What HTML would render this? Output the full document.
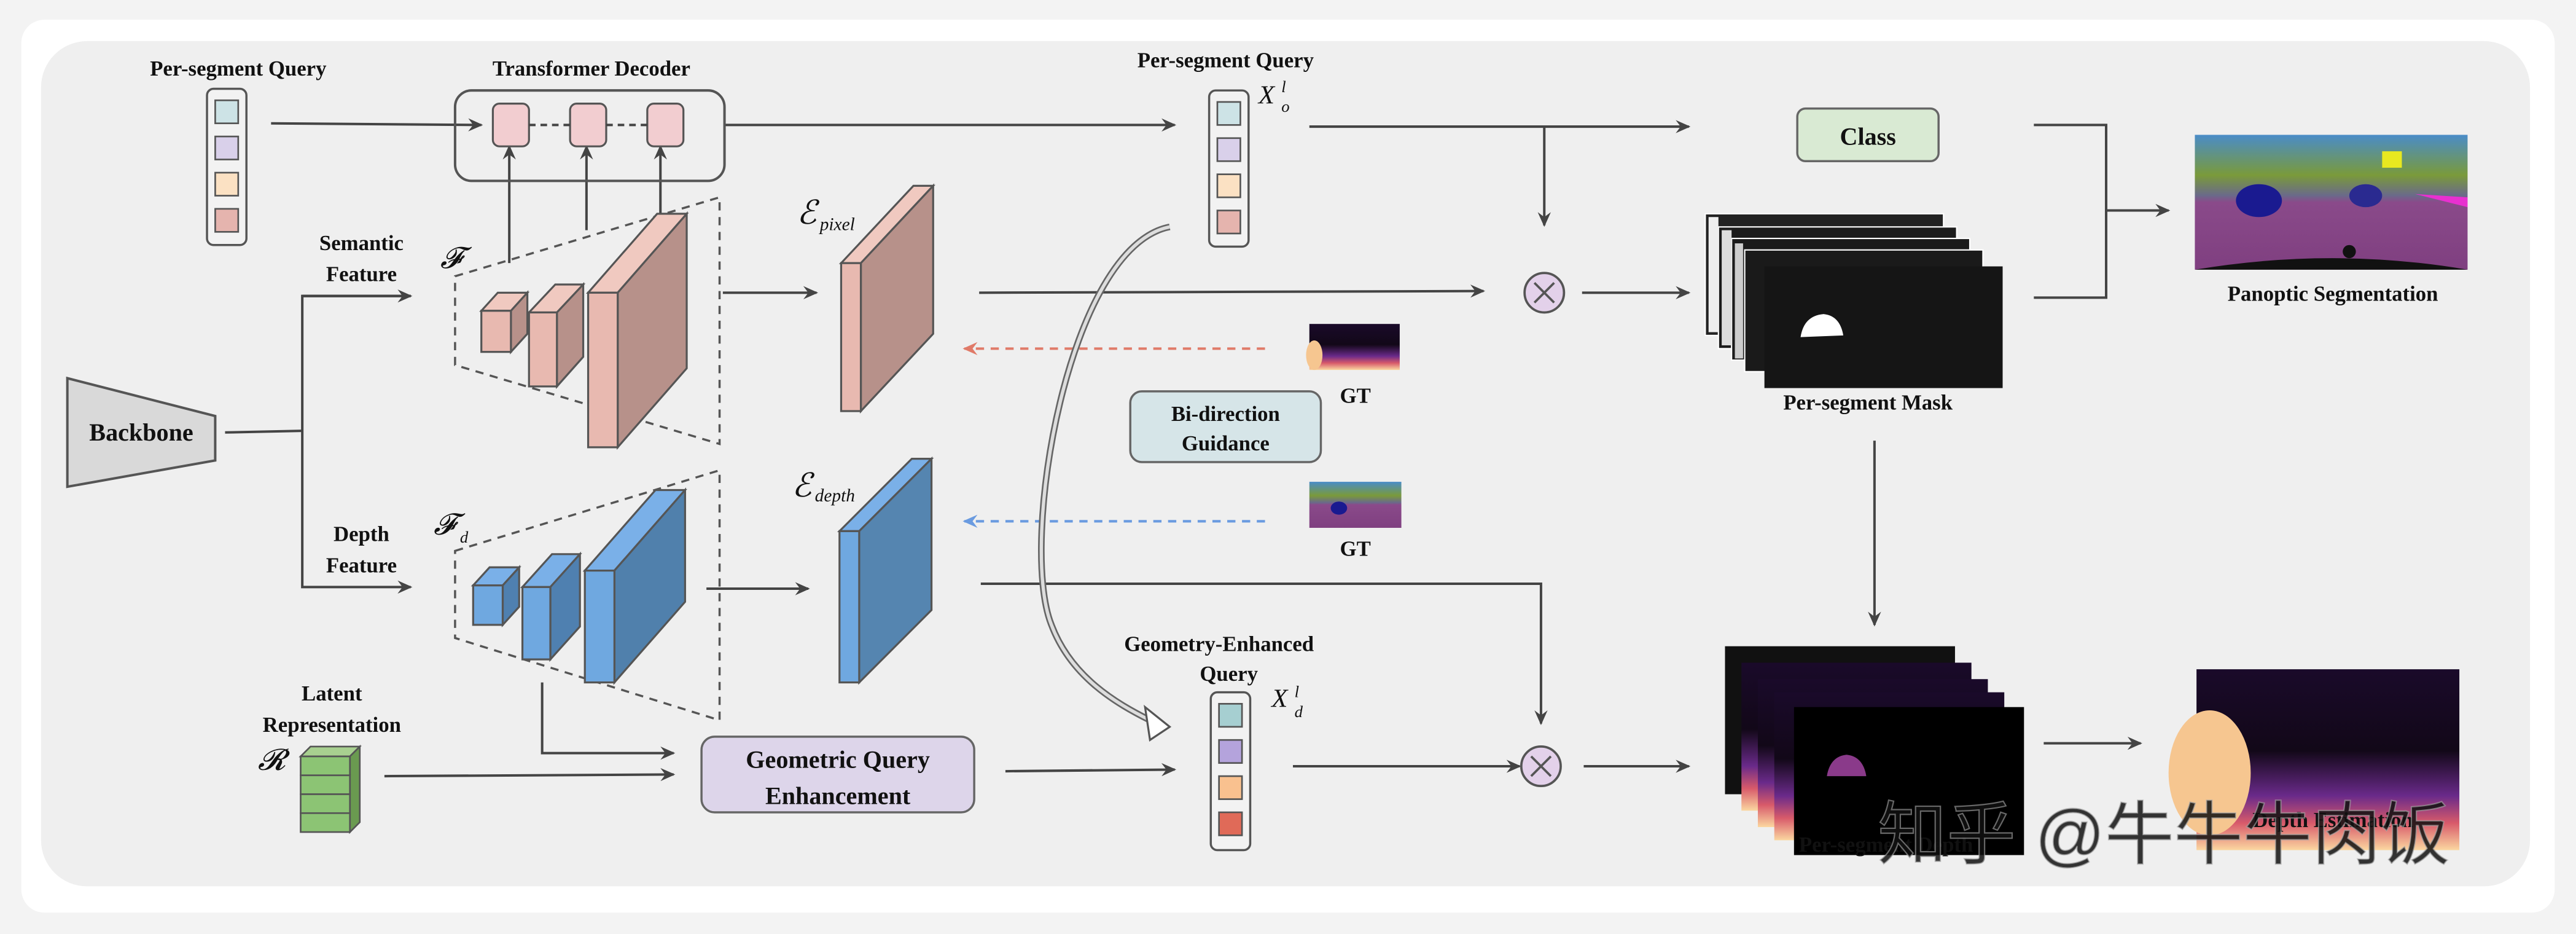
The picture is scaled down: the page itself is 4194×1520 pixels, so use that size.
<!DOCTYPE html>
<html><head><meta charset="utf-8"><style>
html,body{margin:0;padding:0;background:#f3f3f3;}
svg{display:block;}
text{font-family:"Liberation Serif",serif;font-weight:bold;fill:#111;}
.i{font-style:italic;font-weight:normal;}
</style></head><body>
<svg width="4194" height="1520" viewBox="0 0 1568 568" preserveAspectRatio="none" xmlns="http://www.w3.org/2000/svg">
<defs>
<marker id="a" markerWidth="10" markerHeight="10" refX="8" refY="5" orient="auto" markerUnits="userSpaceOnUse"><path d="M0,1 L9,5 L0,9 L3,5 Z" fill="#444"/></marker>
<marker id="ar" markerWidth="10" markerHeight="10" refX="8" refY="5" orient="auto" markerUnits="userSpaceOnUse"><path d="M0,1 L9,5 L0,9 L3,5 Z" fill="#e07a68"/></marker>
<marker id="ab" markerWidth="10" markerHeight="10" refX="8" refY="5" orient="auto" markerUnits="userSpaceOnUse"><path d="M0,1 L9,5 L0,9 L3,5 Z" fill="#6a9be0"/></marker>
<linearGradient id="dep" x1="0" y1="0" x2="0" y2="1"><stop offset="0" stop-color="#1a0a2a"/><stop offset="0.45" stop-color="#120818"/><stop offset="0.7" stop-color="#6a2a8a"/><stop offset="0.85" stop-color="#d85a6a"/><stop offset="1" stop-color="#fbd7a0"/></linearGradient>
<linearGradient id="pan" x1="0" y1="0" x2="0" y2="1"><stop offset="0" stop-color="#4a8cc8"/><stop offset="0.3" stop-color="#7a9a3a"/><stop offset="0.45" stop-color="#6a6a8a"/><stop offset="0.5" stop-color="#8a4a8a"/><stop offset="1" stop-color="#7f3f80"/></linearGradient>
</defs>
<rect x="13" y="12" width="1542" height="543" rx="14" fill="#fff"/>
<rect x="25" y="25" width="1515" height="514" rx="28" fill="#efefef"/>

<g stroke="#444" stroke-width="1.5" fill="none">
<line x1="165" y1="75" x2="293" y2="76" marker-end="url(#a)"/>
<line x1="441" y1="76" x2="715" y2="76" marker-end="url(#a)"/>
<line x1="797" y1="77" x2="1028" y2="77" marker-end="url(#a)"/>
<line x1="940" y1="77" x2="940" y2="137" marker-end="url(#a)"/>
<line x1="596" y1="178" x2="903" y2="177" marker-end="url(#a)"/>
<line x1="963" y1="178" x2="1028" y2="178" marker-end="url(#a)"/>
<polyline points="1238,76 1282,76 1282,181 1238,181"/>
<line x1="1282" y1="128" x2="1320" y2="128" marker-end="url(#a)"/>
<line x1="1141" y1="268" x2="1141" y2="380" marker-end="url(#a)"/>
<line x1="137" y1="263" x2="184" y2="262"/>
<polyline points="250,180 184,180 184,357 250,357" marker-end="url(#a)"/>
<line x1="184" y1="180" x2="250" y2="180" marker-end="url(#a)"/>
<line x1="440" y1="178" x2="497" y2="178" marker-end="url(#a)"/>
<line x1="430" y1="358" x2="492" y2="358" marker-end="url(#a)"/>
<line x1="310" y1="160" x2="310" y2="89" marker-end="url(#a)"/>
<line x1="357" y1="140" x2="357" y2="89" marker-end="url(#a)"/>
<line x1="402" y1="130" x2="402" y2="89" marker-end="url(#a)"/>
<polyline points="597,355 938,355 938,440" marker-end="url(#a)"/>
<line x1="787" y1="466" x2="925" y2="466" marker-end="url(#a)"/>
<line x1="964" y1="466" x2="1028" y2="466" marker-end="url(#a)"/>
<line x1="1244" y1="452" x2="1303" y2="452" marker-end="url(#a)"/>
<line x1="234" y1="472" x2="410" y2="471" marker-end="url(#a)"/>
<polyline points="330,415 330,458 410,458" marker-end="url(#a)"/>
<line x1="612" y1="469" x2="715" y2="468" marker-end="url(#a)"/>
</g>
<line x1="770" y1="212" x2="587" y2="212" stroke="#e07a68" stroke-width="1.5" stroke-dasharray="5,4" marker-end="url(#ar)"/>
<line x1="770" y1="317" x2="587" y2="317" stroke="#6a9be0" stroke-width="1.5" stroke-dasharray="5,4" marker-end="url(#ab)"/>

<rect x="126" y="54" width="24" height="95" rx="4" fill="#f2f2f2" stroke="#555" stroke-width="1.3"/>
<g stroke="#555" stroke-width="1"><rect x="131" y="61" width="14" height="14" fill="#cde3e6"/><rect x="131" y="83" width="14" height="14" fill="#d9d0ea"/><rect x="131" y="105" width="14" height="14" fill="#fbe1c3"/><rect x="131" y="127" width="14" height="14" fill="#e5b4ae"/></g>
<text x="145" y="46" font-size="13" text-anchor="middle">Per-segment Query</text>

<text x="360" y="46" font-size="13" text-anchor="middle">Transformer Decoder</text>
<rect x="277" y="55" width="164" height="55" rx="10" fill="none" stroke="#555" stroke-width="1.5"/>
<g stroke="#555" stroke-width="1.2" fill="#f2cdd0"><rect x="300" y="63" width="22" height="26" rx="4"/><rect x="347" y="63" width="22" height="26" rx="4"/><rect x="394" y="63" width="22" height="26" rx="4"/></g>
<g stroke="#444" stroke-width="1.5" stroke-dasharray="4,3"><line x1="322" y1="76" x2="347" y2="76"/><line x1="369" y1="76" x2="394" y2="76"/></g>

<text x="746" y="41" font-size="13" text-anchor="middle">Per-segment Query</text>
<text x="766" y="63" font-size="16" class="i">X</text><text x="780" y="56" font-size="10" class="i">l</text><text x="780" y="68" font-size="10" class="i">o</text>
<rect x="736" y="55" width="24" height="95" rx="4" fill="#f2f2f2" stroke="#555" stroke-width="1.3"/>
<g stroke="#555" stroke-width="1"><rect x="741" y="62" width="14" height="14" fill="#cde3e6"/><rect x="741" y="84" width="14" height="14" fill="#d9d0ea"/><rect x="741" y="106" width="14" height="14" fill="#fbe1c3"/><rect x="741" y="128" width="14" height="14" fill="#e5b4ae"/></g>

<rect x="1094" y="66" width="86" height="32" rx="5" fill="#d9ead3" stroke="#666" stroke-width="1.3"/>
<text x="1137" y="88" font-size="15" text-anchor="middle">Class</text>

<g stroke="#555" stroke-width="1.4"><circle cx="940" cy="178" r="12" fill="#e3d1ea"/><line x1="934" y1="172" x2="946" y2="184"/><line x1="946" y1="172" x2="934" y2="184"/>
<circle cx="938" cy="466" r="12" fill="#e3d1ea"/><line x1="932" y1="460" x2="944" y2="472"/><line x1="944" y1="460" x2="932" y2="472"/></g>

<rect x="1336" y="82" width="166" height="82" fill="url(#pan)"/>
<ellipse cx="1375" cy="122" rx="14" ry="10" fill="#1a1a90"/><ellipse cx="1440" cy="119" rx="10" ry="7" fill="#2a2a90"/>
<rect x="1450" y="92" width="12" height="10" fill="#e8e820"/>
<polygon points="1470,118 1502,120 1502,126" fill="#e830d0"/>
<circle cx="1430" cy="153" r="4" fill="#111"/><path d="M1336,164 Q1420,150 1502,164Z" fill="#111"/>
<text x="1420" y="183" font-size="13" text-anchor="middle">Panoptic Segmentation</text>

<g stroke="#fff" stroke-width="0.8">
<rect x="1038" y="130" width="145" height="74" fill="#222"/>
<rect x="1046" y="138" width="145" height="74" fill="#1c1c1c"/>
<rect x="1054" y="145" width="145" height="74" fill="#1a1a1a"/>
<rect x="1062" y="152" width="145" height="74" fill="#1a1a1a"/>
</g>
<rect x="1040" y="132" width="6" height="70" fill="#eee"/><rect x="1048" y="140" width="6" height="70" fill="#ddd"/><rect x="1056" y="148" width="5" height="70" fill="#ccc"/>
<rect x="1074" y="162" width="145" height="74" fill="#151515"/>
<path d="M1096,205 Q1098,192 1110,191 Q1120,192 1122,204 Z" fill="#fff"/>
<text x="1137" y="249" font-size="13" text-anchor="middle">Per-segment Mask</text>

<rect x="1050" y="393" width="140" height="90" fill="#111"/>
<rect x="1060" y="403" width="140" height="90" fill="url(#dep)"/>
<rect x="1070" y="413" width="140" height="90" fill="url(#dep)"/>
<rect x="1080" y="421" width="140" height="90" fill="url(#dep)"/>
<rect x="1092" y="430" width="140" height="90" fill="#000"/>
<path d="M1112,472 Q1114,460 1124,459 Q1134,460 1136,472 Z" fill="#8a3a8a"/>
<text x="1148" y="518" font-size="13" text-anchor="middle">Per-segment Depth</text>

<rect x="1337" y="407" width="160" height="110" fill="url(#dep)"/>
<ellipse cx="1345" cy="470" rx="25" ry="38" fill="#f6c690"/>
<text x="1420" y="503" font-size="13" text-anchor="middle">Depth Estimation</text>

<polygon points="41,230 131,253 131,280 41,296" fill="#d9d9d9" stroke="#555" stroke-width="1.5"/>
<text x="86" y="268" font-size="15" text-anchor="middle">Backbone</text>
<text x="220" y="152" font-size="13" text-anchor="middle">Semantic</text>
<text x="220" y="171" font-size="13" text-anchor="middle">Feature</text>
<text x="220" y="329" font-size="13" text-anchor="middle">Depth</text>
<text x="220" y="348" font-size="13" text-anchor="middle">Feature</text>
<text x="268" y="163" font-size="18" class="i">𝓕</text>
<text x="264" y="325" font-size="18" class="i">𝓕</text><text x="280" y="330" font-size="10" class="i">d</text>

<g stroke="#555" stroke-width="1.3" fill="none" stroke-dasharray="5,4">
<polygon points="277,168 438,120 438,270 277,222"/>
<polygon points="277,335 438,286 438,438 277,388"/>
</g>
<g stroke="#555" stroke-width="1.2">
<polygon points="293,189 303,178 321,178 311,189" fill="#f0c9c0"/><polygon points="311,189 321,178 321,203 311,214" fill="#b7918a"/><rect x="293" y="189" width="18" height="25" fill="#e8b9b0"/>
<polygon points="322,190 338,173 355,173 339,190" fill="#f0c9c0"/><polygon points="339,190 355,173 355,217 339,235" fill="#b7918a"/><rect x="322" y="190" width="17" height="45" fill="#e8b9b0"/>
<polygon points="358,178 400,130 418,130 376,178" fill="#f0c9c0"/><polygon points="376,178 418,130 418,224 376,272" fill="#b7918a"/><rect x="358" y="178" width="18" height="94" fill="#e8b9b0"/>
<polygon points="288,356 298,345 316,345 306,356" fill="#7ab0e8"/><polygon points="306,356 316,345 316,369 306,380" fill="#4f80b0"/><rect x="288" y="356" width="18" height="24" fill="#6fa8e0"/>
<polygon points="318,357 336,337 353,337 335,357" fill="#7ab0e8"/><polygon points="335,357 353,337 353,381 335,401" fill="#4f80b0"/><rect x="318" y="357" width="17" height="44" fill="#6fa8e0"/>
<polygon points="356,347 399,298 417,298 374,347" fill="#7ab0e8"/><polygon points="374,347 417,298 417,366 374,415" fill="#5080ac"/><rect x="356" y="347" width="18" height="68" fill="#6fa8e0"/>
<polygon points="512,160 556,113 568,113 524,160" fill="#f0c9c0"/><polygon points="524,160 568,113 568,203 524,250" fill="#b7918a"/><rect x="512" y="160" width="12" height="90" fill="#e8b9b0"/>
<polygon points="511,323 555,279 567,279 523,323" fill="#7ab0e8"/><polygon points="523,323 567,279 567,371 523,415" fill="#5585b0"/><rect x="511" y="323" width="12" height="92" fill="#6fa8e0"/>
</g>
<text x="485" y="136" font-size="20" class="i">ℰ</text><text x="499" y="140" font-size="11" class="i">pixel</text>
<text x="482" y="302" font-size="20" class="i">ℰ</text><text x="496" y="305" font-size="11" class="i">depth</text>

<rect x="797" y="197" width="55" height="28" fill="url(#dep)"/><ellipse cx="800" cy="216" rx="5" ry="9" fill="#f6c690"/>
<text x="825" y="245" font-size="13" text-anchor="middle">GT</text>
<rect x="797" y="293" width="56" height="28" fill="url(#pan)"/><ellipse cx="815" cy="309" rx="5" ry="4" fill="#1a1a90"/>
<text x="825" y="338" font-size="13" text-anchor="middle">GT</text>

<rect x="688" y="238" width="116" height="43" rx="7" fill="#d6e5e8" stroke="#666" stroke-width="1.3"/>
<text x="746" y="256" font-size="13" text-anchor="middle">Bi-direction</text>
<text x="746" y="274" font-size="13" text-anchor="middle">Guidance</text>

<path d="M712,138 C650,150 620,330 640,380 C652,412 680,428 700,438" fill="none" stroke="#666" stroke-width="4"/>
<path d="M712,138 C650,150 620,330 640,380 C652,412 680,428 700,438" fill="none" stroke="#ddd" stroke-width="2"/>
<polygon points="697,430 712,442 700,450" fill="#fff" stroke="#555" stroke-width="1.2"/>

<text x="742" y="396" font-size="13" text-anchor="middle">Geometry-Enhanced</text>
<text x="748" y="414" font-size="13" text-anchor="middle">Query</text>
<text x="774" y="430" font-size="16" class="i">X</text><text x="788" y="424" font-size="10" class="i">l</text><text x="788" y="436" font-size="10" class="i">d</text>
<rect x="737" y="421" width="24" height="96" rx="4" fill="#f2f2f2" stroke="#555" stroke-width="1.3"/>
<g stroke="#555" stroke-width="1"><rect x="742" y="428" width="14" height="14" fill="#a6cfd1"/><rect x="742" y="450" width="14" height="14" fill="#b4a3dc"/><rect x="742" y="472" width="14" height="14" fill="#f9c18f"/><rect x="742" y="494" width="14" height="14" fill="#e06a58"/></g>

<text x="202" y="426" font-size="13" text-anchor="middle">Latent</text>
<text x="202" y="445" font-size="13" text-anchor="middle">Representation</text>
<text x="157" y="468" font-size="18" class="i">𝓡</text>
<g stroke="#555" stroke-width="1">
<polygon points="183,460 189,454 219,454 213,460" fill="#a8d090"/>
<polygon points="213,460 219,454 219,500 213,506" fill="#6a9a50"/>
<rect x="183" y="460" width="30" height="11.5" fill="#8cc474"/><rect x="183" y="471.5" width="30" height="11.5" fill="#8cc474"/><rect x="183" y="483" width="30" height="11.5" fill="#8cc474"/><rect x="183" y="494.5" width="30" height="11.5" fill="#8cc474"/>
</g>
<rect x="427" y="448" width="166" height="46" rx="8" fill="#ddd5ea" stroke="#666" stroke-width="1.3"/>
<text x="510" y="467" font-size="15" text-anchor="middle">Geometric Query</text>
<text x="510" y="489" font-size="15" text-anchor="middle">Enhancement</text>

<text x="1143" y="522" font-size="42" fill="#ffffff" fill-opacity="0.85" stroke="#aaa" stroke-opacity="0.6" stroke-width="0.8" style="font-family:'Liberation Sans','Noto Sans CJK SC',sans-serif;font-weight:normal">知乎 @牛牛牛肉饭</text>
</svg>
</body></html>
